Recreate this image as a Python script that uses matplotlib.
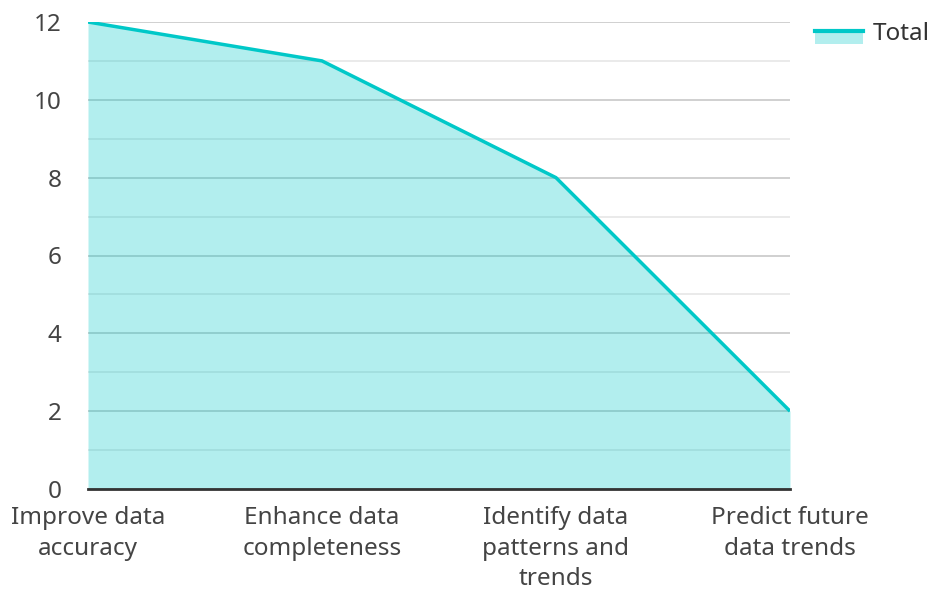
import matplotlib.pyplot as plt
import matplotlib.patches as mpatches
import matplotlib.lines as mlines
from matplotlib.legend_handler import HandlerBase

plt.rcParams['font.family'] = ['Noto Sans', 'DejaVu Sans']

categories = ['Improve data\naccuracy', 'Enhance data\ncompleteness',
              'Identify data\npatterns and\ntrends', 'Predict future\ndata trends']
totals = [12, 11, 8, 2]

line_color = '#00c8c8'
text_color = '#444444'


class AreaHandler(HandlerBase):
    # legend key: thin line sitting on top of a filled block
    def create_artists(self, legend, orig_handle, xdescent, ydescent,
                       width, height, fontsize, trans):
        rect = mpatches.Rectangle((-xdescent, -ydescent - height * 0.25), width, height * 0.75,
                                  facecolor=line_color, alpha=0.3, edgecolor='none',
                                  transform=trans)
        y_top = -ydescent + height * 0.5
        line = mlines.Line2D([-xdescent, -xdescent + width], [y_top, y_top],
                             color=line_color, linewidth=3, transform=trans)
        return [rect, line]


fig = plt.figure(figsize=(9.31, 5.92), dpi=100)
ax = fig.add_axes([88 / 931, 103 / 592, 702 / 931, 467 / 592])

x = list(range(len(categories)))
ax.fill_between(x, totals, 0, color=line_color, alpha=0.3, linewidth=0, zorder=2)
ax.plot(x, totals, color=line_color, linewidth=2.5, zorder=3, solid_capstyle='butt')

ax.set_xlim(0, len(categories) - 1)
ax.set_ylim(0, 12)
ax.set_yticks(range(0, 13, 2))
ax.set_yticks(range(1, 13, 2), minor=True)
ax.set_xticks(x)
ax.set_xticklabels(categories, linespacing=1.38)

ax.grid(axis='y', which='major', color='#c8c8c8', linewidth=1.2, zorder=0)
ax.grid(axis='y', which='minor', color='#e6e6e6', linewidth=1.2, zorder=0)
ax.set_axisbelow(True)

for side in ['top', 'right', 'left']:
    ax.spines[side].set_visible(False)
ax.spines['bottom'].set_color('#333333')
ax.spines['bottom'].set_linewidth(2)
ax.spines['bottom'].set_zorder(4)

ax.tick_params(axis='both', which='both', length=0, labelsize=17.5, colors=text_color)
ax.tick_params(axis='y', pad=19)
ax.tick_params(axis='x', pad=12)
for lbl in ax.get_yticklabels():
    lbl.set_color(text_color)

handle = mpatches.Patch(label='Total')
fig.legend(handles=[handle], labels=['Total'], handler_map={mpatches.Patch: AreaHandler()},
           loc='upper left', bbox_to_anchor=(793 / 931, 1.0), frameon=False,
           fontsize=17.5, handlelength=2.0, handletextpad=0.4, labelcolor='#333333')

fig.savefig('out.png', dpi=100)
